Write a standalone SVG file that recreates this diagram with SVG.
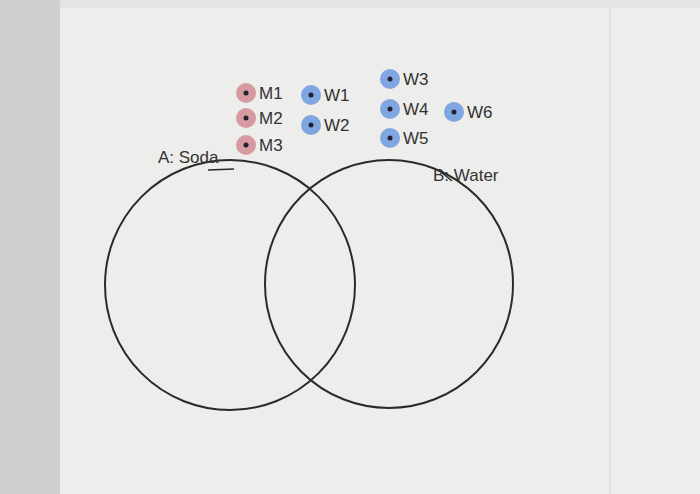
<svg xmlns="http://www.w3.org/2000/svg" width="700" height="494" viewBox="0 0 700 494">
<style>
.t{font-family:"Liberation Sans",Arial,sans-serif;font-size:17px;fill:#333}
.r{fill:#d79aa0}.b{fill:#7fa6e0}.c{fill:#223}
.v{fill:none;stroke:#2a2a2a;stroke-width:2}
</style>
<rect width="700" height="494" fill="#e4e4e2"/>
<rect x="0" y="0" width="60" height="494" fill="#cfcfcf"/>
<rect x="60" y="8" width="640" height="486" fill="#ededeb"/>
<line x1="610" y1="8" x2="610" y2="494" stroke="#d0d0d0"/>
<g id="connectors">
<circle class="v" cx="230" cy="285" r="125"/>
<circle class="v" cx="389" cy="284" r="124"/>
<line x1="208" y1="170" x2="234" y2="169" stroke="#2a2a2a" stroke-width="1.5"/>
<line x1="441" y1="172" x2="452" y2="181" stroke="#2a2a2a" stroke-width="1.5"/>
</g>
<g id="labelA"><text class="t" x="158" y="163">A: Soda</text></g>
<g id="labelB"><text class="t" x="433" y="181">B: Water</text></g>
<g id="M1"><circle class="r" cx="246" cy="93" r="10"/><circle class="c" cx="246" cy="93" r="2.5"/><text class="t" x="259" y="99">M1</text></g>
<g id="M2"><circle class="r" cx="246" cy="118" r="10"/><circle class="c" cx="246" cy="118" r="2.5"/><text class="t" x="259" y="124">M2</text></g>
<g id="M3"><circle class="r" cx="246" cy="145" r="10"/><circle class="c" cx="246" cy="145" r="2.5"/><text class="t" x="259" y="151">M3</text></g>
<g id="W1"><circle class="b" cx="311" cy="95" r="10"/><circle class="c" cx="311" cy="95" r="2.5"/><text class="t" x="324" y="101">W1</text></g>
<g id="W2"><circle class="b" cx="311" cy="125" r="10"/><circle class="c" cx="311" cy="125" r="2.5"/><text class="t" x="324" y="131">W2</text></g>
<g id="W3"><circle class="b" cx="390" cy="79" r="10"/><circle class="c" cx="390" cy="79" r="2.5"/><text class="t" x="403" y="85">W3</text></g>
<g id="W4"><circle class="b" cx="390" cy="109" r="10"/><circle class="c" cx="390" cy="109" r="2.5"/><text class="t" x="403" y="115">W4</text></g>
<g id="W5"><circle class="b" cx="390" cy="138" r="10"/><circle class="c" cx="390" cy="138" r="2.5"/><text class="t" x="403" y="144">W5</text></g>
<g id="W6"><circle class="b" cx="454" cy="112" r="10"/><circle class="c" cx="454" cy="112" r="2.5"/><text class="t" x="467" y="118">W6</text></g>
</svg>
